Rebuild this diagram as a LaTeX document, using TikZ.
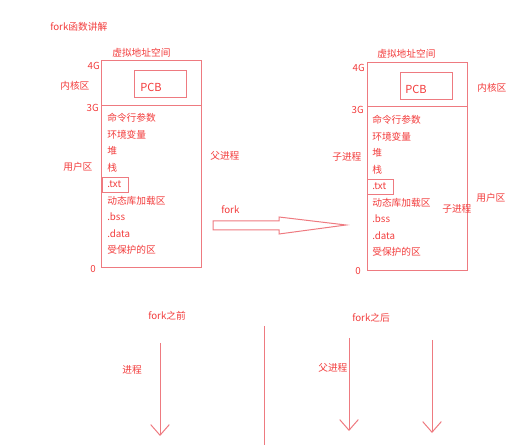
\documentclass[tikz,border=0pt]{standalone}
\usepackage{fontspec}
\setmainfont{Noto Sans CJK SC}
\usetikzlibrary{arrows.meta}
\definecolor{vred}{HTML}{F23C3C}
\definecolor{vpink}{HTML}{EE7A80}

\tikzset{
	lbl/.style={text=vred, font=\fontsize{7.3}{8}\selectfont, inner sep=0pt, anchor=west},
	frame/.style={draw=vpink, line width=0.75pt},
	flow/.style={draw=vpink, line width=0.75pt, -{Straight Barb[length=8pt,width=14pt]}},
}

\begin{document}
\begin{tikzpicture}[x=0.75pt, y=-0.75pt]
		\useasboundingbox (0,0) rectangle (532,445);
		\node[lbl] (title) at (50,27) {fork函数讲解};

		% parent address space
		\draw[frame] (101,61) rectangle (201,268);
		\draw[frame] (101,106) -- (202,106);
		\draw[frame] (134,71) rectangle (186,98);
		\draw[frame] (102,178) rectangle (128,193);
		\node[lbl, font=\fontsize{8.3}{9}\selectfont] (pcbA) at (140,87) {PCB};
		\node[lbl] (vasA) at (112,53) {虚拟地址空间};
		\node[lbl, anchor=east] (topA) at (100,66) {4G};
		\node[lbl, anchor=east] (midA) at (99,108) {3G};
		\node[lbl, anchor=east] (botA) at (96,269) {0};
		\node[lbl] (kernA) at (60,86) {内核区};
		\node[lbl] (userA) at (63,167) {用户区};
		\node[lbl] (parA) at (210,156) {父进程};
		\foreach \txt [count=\i from 0] in {命令行参数, 环境变量, 堆, 栈, .txt, 动态库加载区, .bss, .data, 受保护的区}
			\node[lbl] (A\i) at (107,{118+16.5*\i}) {\txt};

		% fork arrow
		\node[lbl] (forkl) at (221,210) {fork};
		\draw[frame] (213,221) -- (279,221) -- (279,217) -- (346,225) -- (279,234) -- (279,230) -- (213,230) -- cycle;

		% child address space
		\draw[frame] (367,63) rectangle (467,271);
		\draw[frame] (367,107) -- (468,107);
		\draw[frame] (400,73) rectangle (452,100);
		\draw[frame] (367,180) rectangle (393,195);
		\node[lbl, font=\fontsize{8.3}{9}\selectfont] (pcbB) at (405,89) {PCB};
		\node[lbl] (vasB) at (377,54) {虚拟地址空间};
		\node[lbl, anchor=east] (topB) at (365,68) {4G};
		\node[lbl, anchor=east] (midB) at (364,110) {3G};
		\node[lbl, anchor=east] (botB) at (361,271) {0};
		\node[lbl] (kernB) at (477,88) {内核区};
		\node[lbl] (userB) at (476,198) {用户区};
		\node[lbl] (chiB) at (332,157) {子进程};
		\node[lbl] (chiIn) at (442,209) {子进程};
		\foreach \txt [count=\i from 0] in {命令行参数, 环境变量, 堆, 栈, .txt, 动态库加载区, .bss, .data, 受保护的区}
			\node[lbl] (B\i) at (372,{120+16.5*\i}) {\txt};

		% before / after fork
		\node[lbl] (before) at (148,316) {fork之前};
		\node[lbl] (proc) at (122,370) {进程};
		\coordinate (p1s) at (160,343);
		\coordinate (p1e) at (160,436);
		\draw[flow] (p1s) -- (p1e);

		\coordinate (sepT) at (264,326);
		\coordinate (sepB) at (264,445);
		\draw[frame] (sepT) -- (sepB);

		\node[lbl] (after) at (352,318) {fork之后};
		\node[lbl] (fproc) at (318,368) {父进程};
		\coordinate (p2s) at (349,338);
		\coordinate (p2e) at (349,431);
		\draw[flow] (p2s) -- (p2e);
		\coordinate (p3s) at (432,340);
		\coordinate (p3e) at (432,433);
		\draw[flow] (p3s) -- (p3e);
	\end{tikzpicture}
\end{document}
